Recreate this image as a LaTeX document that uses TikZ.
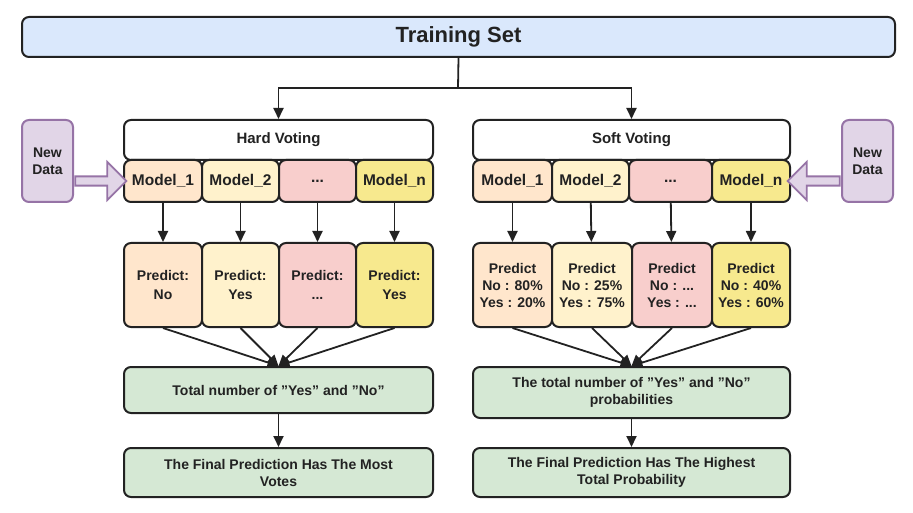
\documentclass[tikz,border=0pt]{standalone}
\usepackage{fontspec}
\setmainfont{Liberation Sans}
\usetikzlibrary{shapes.arrows,arrows.meta}
\definecolor{tb}{HTML}{DAE8FC}
\definecolor{c1}{HTML}{FFE6CC}
\definecolor{c2}{HTML}{FFF2CC}
\definecolor{c3}{HTML}{F8CECC}
\definecolor{c4}{HTML}{F7E98E}
\definecolor{gr}{HTML}{D5E8D4}
\definecolor{pu}{HTML}{E1D5E7}
\definecolor{pus}{HTML}{9673A6}
\definecolor{ln}{HTML}{222222}
\newcommand{\qq}{\symbol{34}}
\tikzset{
 bx/.style={draw=ln,line width=2pt,rounded corners=7pt,font=\bfseries\fontsize{14}{17}\selectfont,align=center,inner sep=0pt,text=ln},
 ar/.style={-{Triangle[length=11pt,width=10pt]},line width=1.8pt,draw=ln},
}
\newcommand{\bxx}[7]{\node[bx,fill=#6,minimum width={#4-#2},minimum height={#5-#3}] (#1) at ({(#2+#4)/2},{(#3+#5)/2}) {#7};}
\begin{document}
\begin{tikzpicture}[x=1pt,y=-1pt]
\useasboundingbox (0,0) rectangle (913,513);
\bxx{ts}{22}{17}{895}{57}{tb}{\fontsize{22}{24}\selectfont Training Set}
\bxx{hv}{124}{120}{433}{160}{white}{\fontsize{15}{17}\selectfont Hard Voting}
\bxx{sv}{473}{120}{790}{160}{white}{\fontsize{15}{17}\selectfont Soft Voting}
% hard
\bxx{hm1}{124}{160}{202}{202}{c1}{\fontsize{15.5}{17}\selectfont Model\_1}
\bxx{hm2}{202}{160}{279}{202}{c2}{\fontsize{15.5}{17}\selectfont Model\_2}
\bxx{hm3}{279}{160}{356}{202}{c3}{\fontsize{15.5}{17}\selectfont ...}
\bxx{hm4}{356}{160}{433}{202}{c4}{\fontsize{15.5}{17}\selectfont Model\_n}
\bxx{hp1}{124}{243}{202}{327}{c1}{Predict:\\[2pt]No}
\bxx{hp2}{202}{243}{279}{327}{c2}{Predict:\\[2pt]Yes}
\bxx{hp3}{279}{243}{356}{327}{c3}{Predict:\\[2pt]...}
\bxx{hp4}{356}{243}{433}{327}{c4}{Predict:\\[2pt]Yes}
\bxx{ht}{124}{367}{433}{413}{gr}{Total number of \qq Yes\qq{} and \qq No\qq}
\bxx{hf}{124}{448}{433}{497}{gr}{The Final Prediction Has The Most\\Votes}
% soft
\bxx{sm1}{473}{160}{552}{202}{c1}{\fontsize{15.5}{17}\selectfont Model\_1}
\bxx{sm2}{552}{160}{629}{202}{c2}{\fontsize{15.5}{17}\selectfont Model\_2}
\bxx{sm3}{629}{160}{712}{202}{c3}{\fontsize{15.5}{17}\selectfont ...}
\bxx{sm4}{712}{160}{790}{202}{c4}{\fontsize{15.5}{17}\selectfont Model\_n}
\bxx{sp1}{473}{243}{552}{327}{c1}{Predict\\No : 80\%\\Yes : 20\%}
\bxx{sp2}{552}{243}{632}{327}{c2}{Predict\\No : 25\%\\Yes : 75\%}
\bxx{sp3}{632}{243}{712}{327}{c3}{Predict\\No : ...\\Yes : ...}
\bxx{sp4}{712}{243}{790}{327}{c4}{Predict\\No : 40\%\\Yes : 60\%}
\bxx{st}{473}{367}{790}{418}{gr}{The total number of \qq Yes\qq{} and \qq No\qq\\probabilities}
\bxx{sf}{473}{448}{790}{497}{gr}{The Final Prediction Has The Highest\\Total Probability}
% new data
\node[bx,draw=pus,fill=pu,minimum width=51pt,minimum height=82pt] (nd1) at (47.5,161) {New\\Data};
\node[bx,draw=pus,fill=pu,minimum width=51pt,minimum height=82pt] (nd2) at (867.5,161) {New\\Data};
\node[single arrow,draw=pus,fill=pu,line width=1.8pt,minimum height=51pt,minimum width=38pt,single arrow head extend=9pt,inner sep=2pt] (ba1) at (98.5,181) {};
\node[single arrow,draw=pus,fill=pu,line width=1.8pt,minimum height=52pt,minimum width=38pt,single arrow head extend=9pt,inner sep=2pt,shape border rotate=180] (ba2) at (816,181) {};
% connectors
\coordinate (sp) at (458,88);
\draw[line width=1.8pt,draw=ln] (ts.south) -- (sp);
\draw[ar] (sp) -| (hv.north);
\draw[ar] (sp) -| (sv.north);
\foreach \i in {1,2,3,4}{
 \draw[ar] (hm\i) -- (hp\i);
 \draw[ar] (sm\i) -- (sp\i);
 \draw[ar] (hp\i.south) -- (ht.north);
 \draw[ar] (sp\i.south) -- (st.north);
}
\draw[ar] (ht) -- (hf);
\draw[ar] (st) -- (sf);
\end{tikzpicture}
\end{document}
